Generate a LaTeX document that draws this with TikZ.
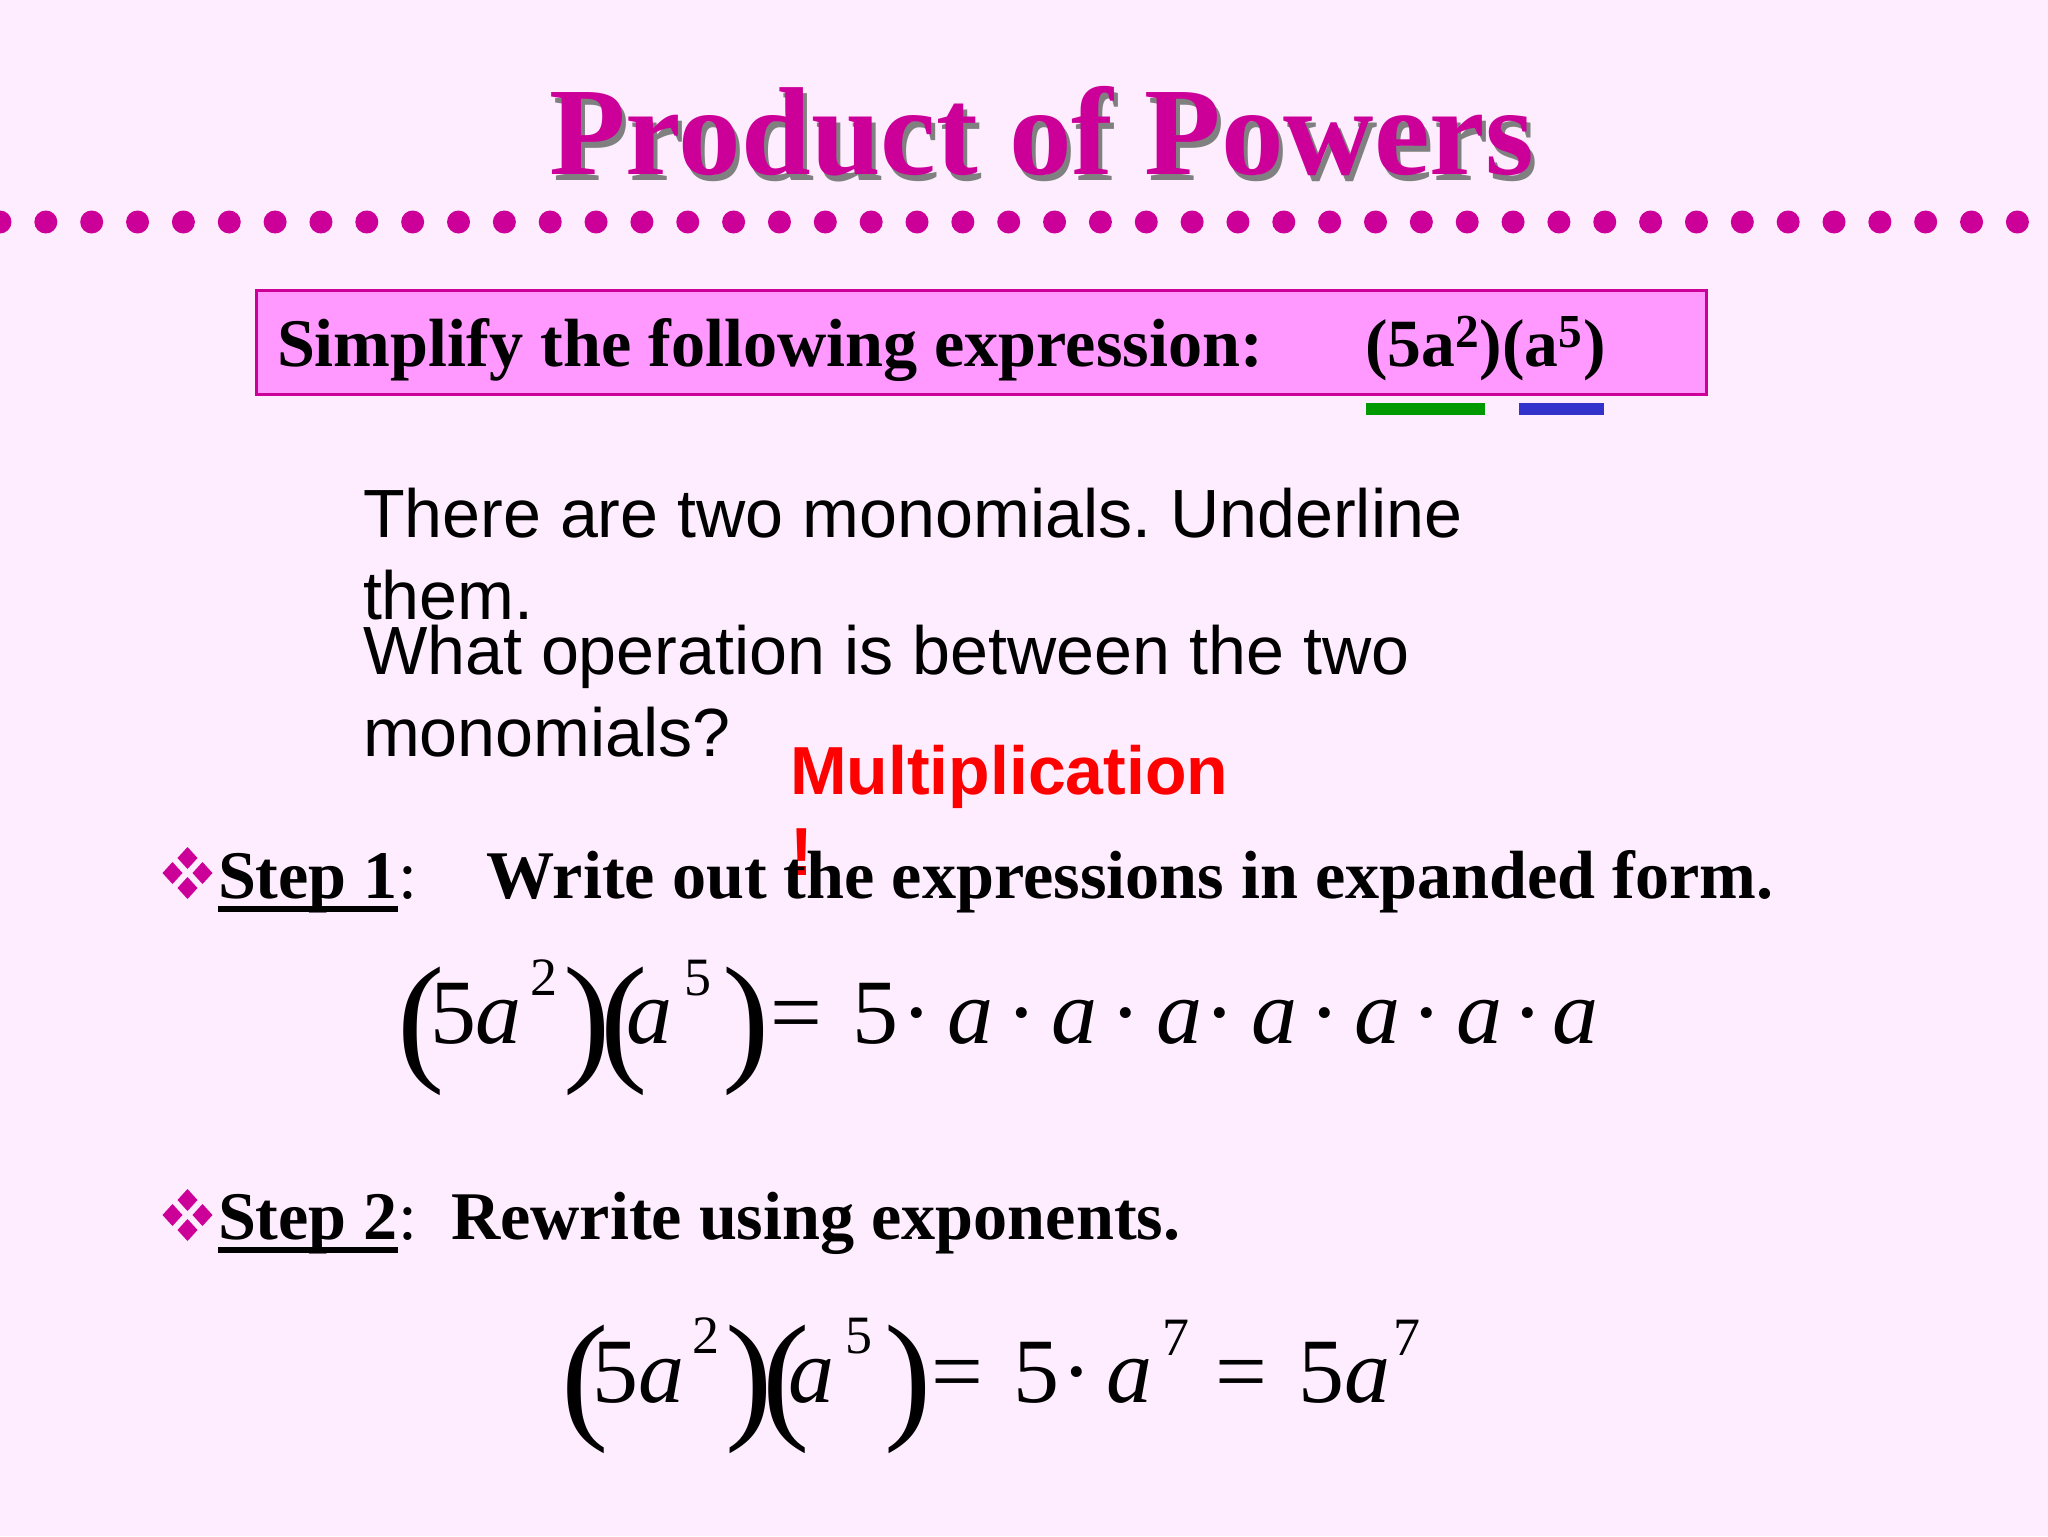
\documentclass[tikz,border=0pt]{standalone}
\usepackage{fontspec}
\setmainfont{Liberation Serif}
\newfontfamily\armfont{Liberation Sans}
\usepackage{tikz}
\definecolor{slidebg}{HTML}{FDEDFE}
\definecolor{slidemag}{HTML}{CC0099}
\definecolor{slidebox}{HTML}{FF99FF}
\definecolor{slidegreen}{HTML}{009900}
\definecolor{slideblue}{HTML}{3333CC}
\newcommand{\fsz}[1]{\fontsize{#1}{#1}\selectfont}
\frenchspacing
\tikzset{
	txt/.style={anchor=base west,inner sep=0pt,outer sep=0pt},
	titletxt/.style={txt,font=\fsz{62.6}\bfseries},
	boldtxt/.style={txt,font=\fsz{34.1}\bfseries},
	plaintxt/.style={txt,font=\fsz{34}},
	bodytxt/.style={txt,font=\fsz{34.1}\armfont},
	redtxt/.style={txt,font=\fsz{34}\armfont\bfseries,text=red},
	eqtxt/.style={txt,font=\fsz{46}},
	eqit/.style={txt,font=\fsz{46}\itshape},
	eqsup/.style={txt,font=\fsz{27}},
	eqparen/.style={txt,font=\fsz{71}},
	rowdot/.style={circle,fill=slidemag,minimum size=11.5pt,inner sep=0pt},
	petal/.style={fill=slidemag},
	stepline/.style={line width=3pt}
}
\begin{document}
\begin{tikzpicture}[x=0.5pt,y=-0.5pt]
	\fill[slidebg] (0,0) rectangle (2048,1536);
	\useasboundingbox (0,0) rectangle (2048,1536);
	% heading
	\node[titletxt,text=gray] (titleshade) at (553,180) {Product of Powers};
	\node[titletxt,text=slidemag] (title) at (549,174) {Product of Powers};
	\foreach \i in {0,...,44}
		\node[rowdot] (dot\i) at (\i*45.85,222) {};
	% question box
	\node[draw=slidemag,line width=1.5pt,fill=slidebox,minimum width=725pt,minimum height=52pt,inner sep=0pt,anchor=north west] (qbox) at (255,289) {};
	\node[boldtxt] (qtext) at (277,366) {Simplify the following expression:};
	\node[boldtxt,font=\fsz{33.8}\bfseries] (qexpr) at (1365,366) {(5a\textsuperscript{2})(a\textsuperscript{5})};
	\fill[slidegreen] (1366,403) rectangle (1485,415);
	\fill[slideblue] (1519,403) rectangle (1604,415);
	% body text
	\node[bodytxt] (lineone) at (363,537) {There are two monomials. Underline};
	\node[bodytxt] (linetwo) at (363,619) {them.};
	\node[bodytxt] (linethree) at (363,674) {What operation is between the two};
	\node[bodytxt] (linefour) at (363,756) {monomials?};
	\node[redtxt] (answer) at (790,794) {Multiplication};
	\node[redtxt] (answerb) at (790,875) {!};
	% steps
	\foreach \yy in {873,1215}{
		\foreach \dx/\dy in {-15/0,15/0,0/-15,0/15}
			\fill[petal] (187.5+\dx-10,\yy+\dy) -- (187.5+\dx,\yy+\dy-11) -- (187.5+\dx+10,\yy+\dy) -- (187.5+\dx,\yy+\dy+11) -- cycle;
	}
	\node[boldtxt] (stepone) at (218,898) {Step 1};
	\node[plaintxt] (colonone) at (398,898) {:};
	\node[boldtxt] (steponetext) at (486,898) {Write out the expressions in expanded form.};
	\draw[stepline] (218,908.5) -- (398,908.5);
	\node[boldtxt] (steptwo) at (218,1239) {Step 2};
	\node[plaintxt] (colontwo) at (398,1239) {:};
	\node[boldtxt] (steptwotext) at (451,1239) {Rewrite using exponents.};
	\draw[stepline] (218,1250) -- (398,1250);
	% first equation
	\node[eqparen] (ea) at (397,1065) {(};
	\node[eqtxt] (eb) at (430,1043) {5};
	\node[eqit] (ec) at (475,1043) {a};
	\node[eqsup] (ed) at (530,995) {2};
	\node[eqparen] (ee) at (563,1065) {)};
	\node[eqparen] (ef) at (600,1065) {(};
	\node[eqit] (eg) at (626,1043) {a};
	\node[eqsup] (eh) at (684,995) {5};
	\node[eqparen] (ei) at (722,1065) {)};
	\node[eqtxt] (ej) at (770,1043) {=};
	\node[eqtxt] (ek) at (852,1043) {5};
	\foreach \px/\ax [count=\k] in {917/947,1022/1051,1126/1156,1220/1251,1325/1354,1427/1456,1528/1552}{
		\node[eqtxt,anchor=base] (ep\k) at (\px,1043) {·};
		\node[eqit] (ea\k) at (\ax,1043) {a};
	}
	% second equation
	\node[eqparen] (fa) at (561,1423) {(};
	\node[eqtxt] (fb) at (592,1402) {5};
	\node[eqit] (fc) at (638,1402) {a};
	\node[eqsup] (fd) at (692,1353) {2};
	\node[eqparen] (fe) at (725,1423) {)};
	\node[eqparen] (ff) at (762,1423) {(};
	\node[eqit] (fg) at (788,1402) {a};
	\node[eqsup] (fh) at (845,1353) {5};
	\node[eqparen] (fi) at (884,1423) {)};
	\node[eqtxt] (fj) at (931,1402) {=};
	\node[eqtxt] (fk) at (1013,1402) {5};
	\node[eqtxt,anchor=base] (fl) at (1077,1402) {·};
	\node[eqit] (fm) at (1106,1402) {a};
	\node[eqsup] (fn) at (1162,1355) {7};
	\node[eqtxt] (fo) at (1215,1402) {=};
	\node[eqtxt] (fp) at (1298,1402) {5};
	\node[eqit] (fq) at (1344,1402) {a};
	\node[eqsup] (fr) at (1393,1355) {7};
\end{tikzpicture}
\end{document}
